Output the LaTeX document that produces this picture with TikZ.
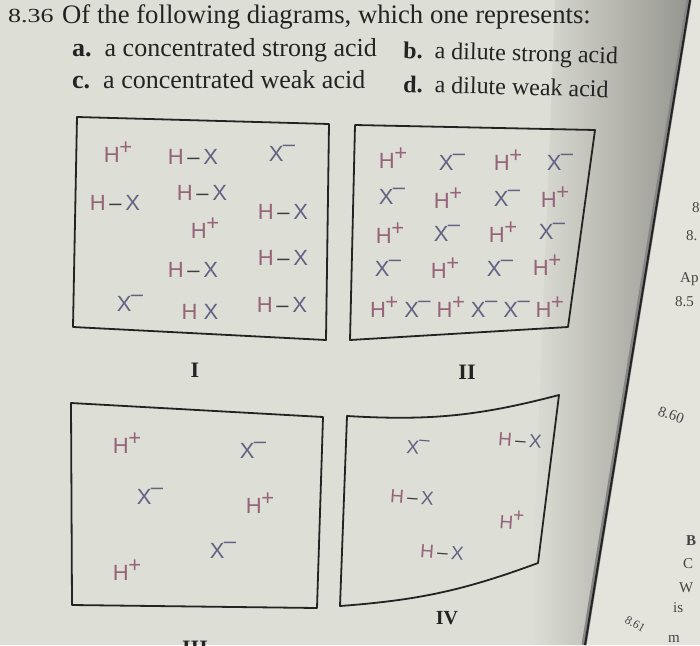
\documentclass[tikz,border=0pt]{standalone}
\usepackage{fontspec}
\setmainfont{Liberation Serif}
\newfontfamily\ionfont{Liberation Sans}
\usetikzlibrary{calc}

\definecolor{paper}{RGB}{221,222,213}
\definecolor{shadow}{RGB}{150,150,144}
\definecolor{pageR}{RGB}{228,228,221}
\definecolor{hcol}{RGB}{150,100,122}
\definecolor{xcol}{RGB}{98,98,132}
\definecolor{dashcol}{RGB}{60,60,66}
\definecolor{inkcol}{RGB}{35,35,35}

\newcommand{\Hp}{{\color{hcol}H\kern-.5pt\raisebox{.39em}{+}}}
\newcommand{\Xm}{{\color{xcol}X\kern-.5pt\raisebox{.45em}{–}}}
\newcommand{\HX}{{\color{hcol}H}\,{\color{dashcol}–}\,{\color{xcol}X}}

\tikzset{
  ion/.style={font=\ionfont\fontsize{22}{22}\selectfont, inner sep=0pt},
  ionIV/.style={font=\ionfont\fontsize{19}{19}\selectfont, inner sep=0pt, rotate=-4},
  box/.style={draw=inkcol, line width=1.8pt, line join=round},
  numeral/.style={font=\fontsize{22}{22}\selectfont\bfseries, text=inkcol, inner sep=0pt},
  question/.style={font=\fontsize{26}{30}\selectfont, text=inkcol, anchor=base west, inner sep=0pt},
  choice/.style={font=\fontsize{24}{28}\selectfont, text=inkcol, anchor=base west, inner sep=0pt, rotate=-1.5},
  margin/.style={font=\fontsize{15}{15}\selectfont, text=inkcol!85, anchor=base west, inner sep=0pt}
}

\begin{document}
\begin{tikzpicture}[x=1pt, y=-1pt]
\fill[paper] (0,0) rectangle (700,645);
\useasboundingbox (0,0) rectangle (700,645);

% fold of the book
\shade[left color=paper, right color=shadow] (555,0) -- (689,0) -- (584,645) -- (530,645) -- cycle;
\fill[pageR] (689,0) -- (700,0) -- (700,645) -- (584,645) -- cycle;
\draw[line width=5pt, inkcol!55] (689,0) -- (584,645);
\draw[line width=2pt, inkcol] (690,0) -- (585,645);

% question
\node[question, font=\fontsize{20}{22}\selectfont] (num) at (8,22) {\scalebox{1.3}[1]{8.36}};
\node[question, font=\fontsize{26.7}{30}\selectfont] (q) at (62,23) {Of the following diagrams, which one represents:};
\node[question] (qa) at (72,56) {\textbf{a.}\, a concentrated strong acid};
\node[choice] (qb) at (403,58) {\textbf{b.}\, a dilute strong acid};
\node[question] (qc) at (72,88) {\textbf{c.}\, a concentrated weak acid};
\node[choice] (qd) at (403,92) {\textbf{d.}\, a dilute weak acid};

% box I
\draw[box] (77,117) -- (329,124) -- (326,340) -- (73,327) -- cycle;
\node[ion] (a1) at (118,152) {\Hp};
\node[ion] (a2) at (193,157) {\HX};
\node[ion] (a3) at (282,153) {\Xm};
\node[ion] (a4) at (115,203) {\HX};
\node[ion] (a5) at (202,193) {\HX};
\node[ion] (a6) at (283,212) {\HX};
\node[ion] (a7) at (205,228) {\Hp};
\node[ion] (a8) at (193,270) {\HX};
\node[ion] (a9) at (283,258) {\HX};
\node[ion] (a10) at (130,303) {\Xm};
\node[ion] (a11) at (200,312) {{\color{hcol}H}\ {\color{xcol}X}};
\node[ion] (a12) at (282,305) {\HX};
\node[numeral] (nI) at (195,370) {I};

% box II
\draw[box] (355,125) -- (595,130) -- (568,327) -- (350,340) -- cycle;
\node[ion] (b1) at (393,158) {\Hp};
\node[ion] (b2) at (452,162) {\Xm};
\node[ion] (b3) at (508,160) {\Hp};
\node[ion] (b4) at (560,162) {\Xm};
\node[ion] (b5) at (392,196) {\Xm};
\node[ion] (b6) at (448,198) {\Hp};
\node[ion] (b7) at (507,198) {\Xm};
\node[ion] (b8) at (555,197) {\Hp};
\node[ion] (b9) at (390,233) {\Hp};
\node[ion] (b10) at (447,233) {\Xm};
\node[ion] (b11) at (503,232) {\Hp};
\node[ion] (b12) at (552,231) {\Xm};
\node[ion] (b13) at (388,268) {\Xm};
\node[ion] (b14) at (445,268) {\Hp};
\node[ion] (b15) at (500,268) {\Xm};
\node[ion] (b16) at (547,265) {\Hp};
\node[ion] (b17) at (467,307) {\Hp\kern6pt\Xm\kern6pt\Hp\kern6pt\Xm\kern6pt\Xm\kern6pt\Hp};
\node[numeral] (nII) at (467,372) {II};

% box III
\draw[box] (71,403) -- (323,417) -- (317,608) -- (72,605) -- cycle;
\node[ion] (c1) at (127,443) {\Hp};
\node[ion] (c2) at (253,450) {\Xm};
\node[ion] (c3) at (150,496) {\Xm};
\node[ion] (c4) at (260,503) {\Hp};
\node[ion] (c5) at (223,550) {\Xm};
\node[ion] (c6) at (127,570) {\Hp};
\begin{scope}
\clip (0,0) rectangle (700,645);
\node[numeral] (nIII) at (195,648) {III};
\end{scope}

% box IV
\draw[box] (347,416) to[bend right=9] (559,395) -- (538,563) to[bend left=8] (340,606) -- cycle;
\node[ionIV] (d1) at (418,447) {\Xm};
\node[ionIV] (d2) at (520,440) {\HX};
\node[ionIV] (d3) at (412,497) {\HX};
\node[ionIV] (d4) at (512,520) {\Hp};
\node[ionIV] (d5) at (442,552) {\HX};
\node[numeral, font=\fontsize{20}{20}\selectfont\bfseries] (nIV) at (447,618) {IV};

% next page, cut off at the right
\node[margin] (m1) at (692,212) {8};
\node[margin] (m2) at (686,240) {8.};
\node[margin] (m3) at (680,282) {Ap};
\node[margin] (m4) at (675,306) {8.5};
\node[margin, rotate=-20] (m5) at (657,415) {8.60};
\node[margin, font=\fontsize{15}{15}\selectfont\bfseries] (m6) at (686,545) {B};
\node[margin] (m7) at (683,568) {C};
\node[margin] (m8) at (679,592) {W};
\node[margin] (m9) at (673,612) {is};
\node[margin, rotate=-30, font=\fontsize{12}{12}\selectfont] (m10) at (624,622) {8.61};
\node[margin] (m11) at (668,642) {m};
\end{tikzpicture}
\end{document}
